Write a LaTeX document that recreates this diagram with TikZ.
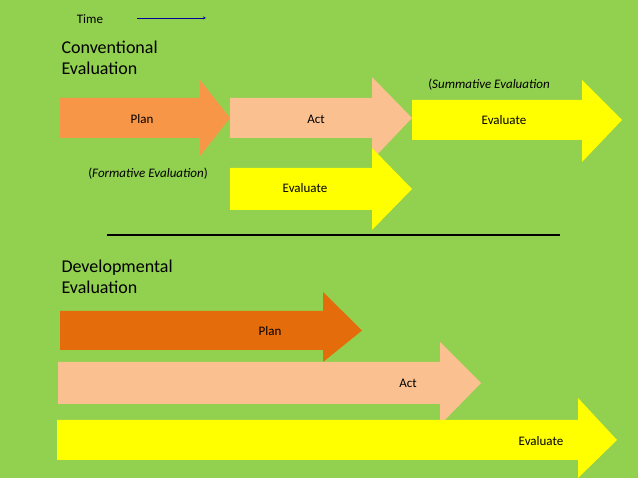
\documentclass[tikz,border=0pt]{standalone}
\usepackage{fontspec}
\setmainfont{Carlito}
\begin{document}
\begin{tikzpicture}[x=1pt,y=-1pt,
  lbl/.style={font=\fontsize{13}{15}\selectfont},
  ttl/.style={font=\fontsize{18}{21}\selectfont,align=left,anchor=north west}]
\definecolor{bg}{HTML}{92D050}
\definecolor{orA}{HTML}{F79646}
\definecolor{peach}{HTML}{FAC090}
\definecolor{yel}{HTML}{FFFF00}
\definecolor{dor}{HTML}{E46C0A}
\fill[bg] (0,0) rectangle (638,478);
\useasboundingbox (0,0) rectangle (638,478);
% arr(x1,ytop,ybot,xh,htop,hbot,xtip)
\newcommand{\arr}[8]{\fill[#8] (#1,#2) -- (#4,#2) -- (#4,#5) -- (#7,{(#2+#3)/2}) -- (#4,#6) -- (#4,#3) -- (#1,#3) -- cycle;}
\arr{60}{98}{138}{200}{80}{156}{230}{orA}
\arr{230}{98}{138}{372}{77}{160}{412}{peach}
\arr{412}{100}{140}{582}{80}{162}{622}{yel}
\arr{230}{168}{210}{372}{148}{230}{412}{yel}
\arr{60}{311}{350}{323}{292}{362}{362}{dor}
\arr{58}{362}{404}{440}{342}{425}{481}{peach}
\arr{57}{420}{460}{578}{398}{478}{617}{yel}
\node[lbl] (time) at (90,19) {Time};
\coordinate (t1) at (137,18); \coordinate (t2) at (206,18);
\draw[-stealth,blue!60!black] (t1) -- (t2);
\node[ttl] (ce) at (58,37) {Conventional\\Evaluation};
\node[ttl] (de) at (58,256) {Developmental\\Evaluation};
\node[lbl] (p1) at (142,119) {Plan};
\node[lbl] (a1) at (316,119) {Act};
\node[lbl] (e1) at (504,120) {Evaluate};
\node[lbl] (se) at (489,85) {(\textit{Summative Evaluation}};
\node[lbl] (fe) at (148,174) {(\textit{Formative Evaluation})};
\node[lbl] (e2) at (305,188) {Evaluate};
\node[lbl] (p2) at (270,331) {Plan};
\node[lbl] (a2) at (408,383) {Act};
\node[lbl] (e3) at (541,441) {Evaluate};
\coordinate (l1) at (107,235); \coordinate (l2) at (560,235);
\draw[line width=1.5pt] (l1) -- (l2);
\end{tikzpicture}
\end{document}
